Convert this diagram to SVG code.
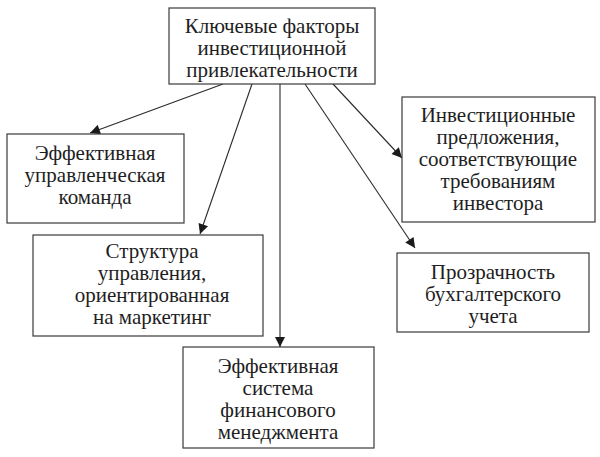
<svg xmlns="http://www.w3.org/2000/svg" width="600" height="457" viewBox="0 0 600 457">
<defs>
<marker id="ah" viewBox="0 0 10 10" refX="10" refY="5" markerWidth="12" markerHeight="10" markerUnits="userSpaceOnUse" orient="auto">
<path d="M0,0 L10,5 L0,10 Z" fill="#1a1a1a"/>
</marker>
<style>
.box{fill:#fff;stroke:#3a3a3a;stroke-width:1.2}
.t{font-family:'Liberation Serif','Liberation Sans',Arial,sans-serif;font-size:21px;fill:#1e1e1e;text-anchor:middle}
.c{stroke:#2a2a2a;stroke-width:1.1;fill:none;marker-end:url(#ah)}
</style>
</defs>
<rect width="600" height="457" fill="#fff"/>
<g id="connectors">
<line class="c" x1="223" y1="84" x2="90" y2="133"/>
<line class="c" x1="252" y1="84" x2="200" y2="234"/>
<line class="c" x1="280" y1="84" x2="280" y2="347"/>
<line class="c" x1="333" y1="84" x2="402" y2="158"/>
<line class="c" x1="305" y1="84" x2="415" y2="248"/>
</g>
<g id="top">
<rect class="box" x="169" y="8" width="206" height="76"/>
<text class="t" x="272" y="33">Ключевые факторы</text>
<text class="t" x="272" y="55">инвестиционной</text>
<text class="t" x="272" y="77">привлекательности</text>
</g>
<g id="team">
<rect class="box" x="7" y="134" width="177" height="89"/>
<text class="t" x="95" y="160">Эффективная</text>
<text class="t" x="95" y="182">управленческая</text>
<text class="t" x="95" y="204">команда</text>
</g>
<g id="structure">
<rect class="box" x="33" y="235" width="230" height="101"/>
<text class="t" x="152" y="258">Структура</text>
<text class="t" x="152" y="280">управления,</text>
<text class="t" x="152" y="302">ориентированная</text>
<text class="t" x="152" y="324">на маркетинг</text>
</g>
<g id="finance">
<rect class="box" x="183" y="347" width="191" height="101"/>
<text class="t" x="278" y="373">Эффективная</text>
<text class="t" x="278" y="395">система</text>
<text class="t" x="278" y="417">финансового</text>
<text class="t" x="278" y="439">менеджмента</text>
</g>
<g id="offers">
<rect class="box" x="402" y="97" width="193" height="125"/>
<text class="t" x="498" y="122">Инвестиционные</text>
<text class="t" x="498" y="144">предложения,</text>
<text class="t" x="498" y="166">соответствующие</text>
<text class="t" x="498" y="188">требованиям</text>
<text class="t" x="498" y="210">инвестора</text>
</g>
<g id="transparency">
<rect class="box" x="397" y="253" width="192" height="79"/>
<text class="t" x="493" y="279">Прозрачность</text>
<text class="t" x="493" y="301">бухгалтерского</text>
<text class="t" x="493" y="323">учета</text>
</g>
</svg>
